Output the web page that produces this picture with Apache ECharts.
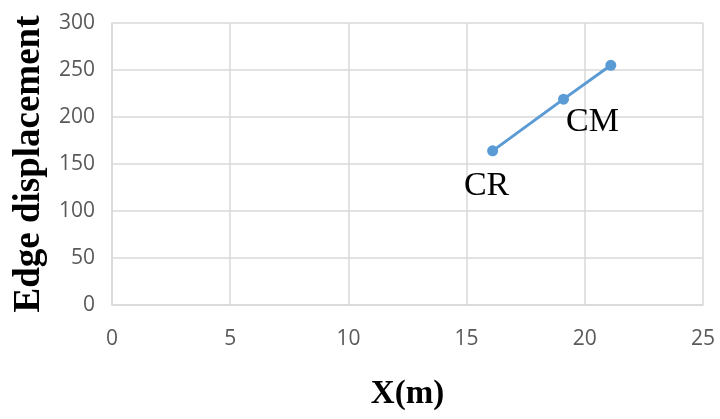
<!DOCTYPE html>
<html lang="en">
<head>
    <meta charset="UTF-8">
    <title>Edge displacement</title>
    <script src="https://cdn.jsdelivr.net/npm/echarts@6/dist/echarts.min.js"></script>
    <style>
        html, body { margin: 0; padding: 0; background: #fff; }
    </style>
</head>
<body>
<div id="main" style="width: 720px;height:419px;"></div>
<script>
    // data
    var xValues = [16.1, 19.1, 21.1];
    var yValues = [164, 219, 255];
    var pointNames = ['CR', 'CM', ''];
    var xTicks = [0, 5, 10, 15, 20, 25];
    var yTicks = [0, 50, 100, 150, 200, 250, 300];

    var myChart = echarts.init(document.getElementById('main'));

    // label placement per point (centre of text relative to the marker)
    var labelOffsets = [[-6, 35], [29, 23], [0, 0]];
    var seriesData = [];
    for (var i = 0; i < xValues.length; i++) {
        seriesData.push({
            value: [xValues[i], yValues[i]],
            name: pointNames[i],
            label: { show: !!pointNames[i], offset: labelOffsets[i] }
        });
    }

    var gridColor = '#d9d9d9';
    var tickFont = { color: '#595959', fontSize: 21, fontFamily: 'Open Sans' };
    var titleFont = { color: '#000', fontWeight: 'bold', fontFamily: 'Liberation Serif' };

    var option = {
        animation: false,
        grid: { left: 112, right: 17, top: 23, bottom: 114 },
        xAxis: {
            type: 'value',
            min: xTicks[0],
            max: xTicks[xTicks.length - 1],
            interval: 5,
            name: 'X(m)',
            nameLocation: 'middle',
            nameGap: 73,
            nameTextStyle: Object.assign({ fontSize: 33 }, titleFont),
            axisLine: { show: true, lineStyle: { color: gridColor, width: 1.5 } },
            axisTick: { show: false },
            axisLabel: Object.assign({ margin: 24 }, tickFont),
            splitLine: { show: true, lineStyle: { color: gridColor, width: 1.5 } }
        },
        yAxis: {
            type: 'value',
            min: yTicks[0],
            max: yTicks[yTicks.length - 1],
            interval: 50,
            name: 'Edge displacement',
            nameLocation: 'middle',
            nameGap: 59,
            nameTextStyle: Object.assign({ fontSize: 37 }, titleFont),
            axisLine: { show: true, lineStyle: { color: gridColor, width: 1.5 } },
            axisTick: { show: false },
            axisLabel: Object.assign({ margin: 17 }, tickFont),
            splitLine: { show: true, lineStyle: { color: gridColor, width: 1.5 } }
        },
        series: [{
            type: 'line',
            data: seriesData,
            symbol: 'circle',
            symbolSize: 11,
            lineStyle: { color: '#5b9bd5', width: 3 },
            itemStyle: { color: '#5b9bd5' },
            label: {
                show: true,
                position: 'inside',
                formatter: '{b}',
                color: '#000',
                fontSize: 34,
                fontFamily: 'Liberation Serif'
            }
        }]
    };

    myChart.setOption(option);
</script>
</body>
</html>
